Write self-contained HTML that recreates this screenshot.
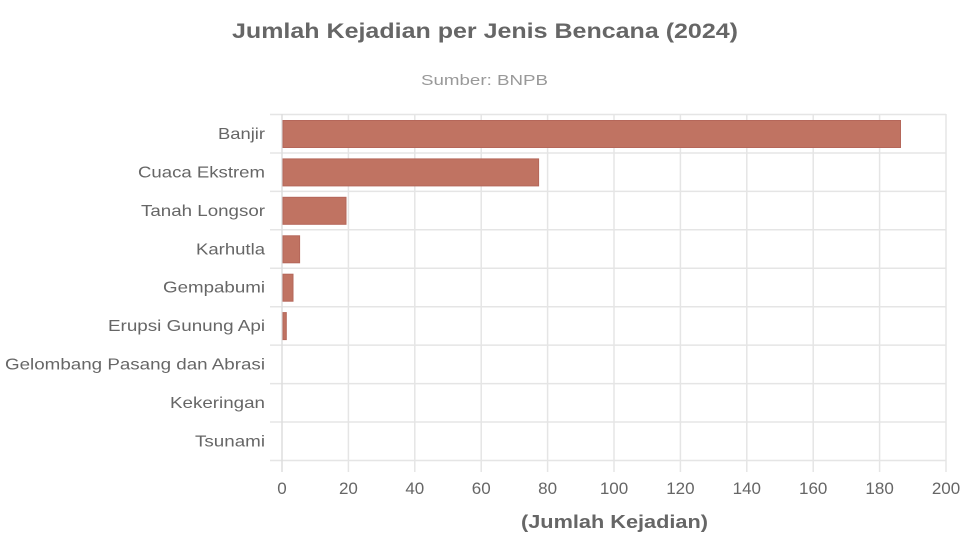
<!DOCTYPE html>
<html><head><meta charset="utf-8"><style>body{margin:0;background:#fff}svg{display:block}</style></head><body>
<svg width="968" height="543" xmlns="http://www.w3.org/2000/svg" font-family="Liberation Sans, sans-serif">
<text x="232" y="38" font-size="21" font-weight="bold" fill="#666" textLength="506" lengthAdjust="spacingAndGlyphs">Jumlah Kejadian per Jenis Bencana (2024)</text>
<text x="421" y="85" font-size="15" fill="#999" textLength="127" lengthAdjust="spacingAndGlyphs">Sumber: BNPB</text>
<g stroke="#e5e5e5" stroke-width="1.5">
<line x1="270" y1="114.5" x2="946" y2="114.5"/>
<line x1="270" y1="153" x2="946" y2="153"/>
<line x1="270" y1="191.4" x2="946" y2="191.4"/>
<line x1="270" y1="229.8" x2="946" y2="229.8"/>
<line x1="270" y1="268.3" x2="946" y2="268.3"/>
<line x1="270" y1="306.7" x2="946" y2="306.7"/>
<line x1="270" y1="345.1" x2="946" y2="345.1"/>
<line x1="270" y1="383.6" x2="946" y2="383.6"/>
<line x1="270" y1="422" x2="946" y2="422"/>
<line x1="270" y1="460.5" x2="946" y2="460.5"/>
<line x1="348.4" y1="114" x2="348.4" y2="472"/>
<line x1="414.8" y1="114" x2="414.8" y2="472"/>
<line x1="481.2" y1="114" x2="481.2" y2="472"/>
<line x1="547.6" y1="114" x2="547.6" y2="472"/>
<line x1="614" y1="114" x2="614" y2="472"/>
<line x1="680.4" y1="114" x2="680.4" y2="472"/>
<line x1="746.8" y1="114" x2="746.8" y2="472"/>
<line x1="813.2" y1="114" x2="813.2" y2="472"/>
<line x1="879.6" y1="114" x2="879.6" y2="472"/>
<line x1="946" y1="114" x2="946" y2="472"/>
</g>
<line x1="282" y1="114" x2="282" y2="472" stroke="#ddd" stroke-width="1.5"/>
<g fill="#c07362" stroke="#b5675a" stroke-width="1">
<rect x="283" y="120.5" width="617.5" height="27"/>
<rect x="283" y="158.9" width="255.6" height="27"/>
<rect x="283" y="197.3" width="63" height="27"/>
<rect x="283" y="235.8" width="16.6" height="27"/>
<rect x="283" y="274.2" width="10" height="27"/>
<rect x="283" y="312.6" width="3.3" height="27"/>
</g>
<g font-size="16" fill="#666">
<text x="218" y="139" textLength="47" lengthAdjust="spacingAndGlyphs">Banjir</text>
<text x="138" y="177.5" textLength="127" lengthAdjust="spacingAndGlyphs">Cuaca Ekstrem</text>
<text x="141" y="216" textLength="124" lengthAdjust="spacingAndGlyphs">Tanah Longsor</text>
<text x="196" y="254.3" textLength="69" lengthAdjust="spacingAndGlyphs">Karhutla</text>
<text x="163" y="292.7" textLength="102" lengthAdjust="spacingAndGlyphs">Gempabumi</text>
<text x="108" y="331.1" textLength="157" lengthAdjust="spacingAndGlyphs">Erupsi Gunung Api</text>
<text x="5" y="369.6" textLength="260" lengthAdjust="spacingAndGlyphs">Gelombang Pasang dan Abrasi</text>
<text x="170" y="408" textLength="95" lengthAdjust="spacingAndGlyphs">Kekeringan</text>
<text x="195" y="446.4" textLength="70" lengthAdjust="spacingAndGlyphs">Tsunami</text>
</g>
<g font-size="17" fill="#666" text-anchor="middle">
<text x="282" y="494">0</text><text x="348.4" y="494">20</text><text x="414.8" y="494">40</text><text x="481.2" y="494">60</text><text x="547.6" y="494">80</text><text x="614" y="494">100</text><text x="680.4" y="494">120</text><text x="746.8" y="494">140</text><text x="813.2" y="494">160</text><text x="879.6" y="494">180</text><text x="946" y="494">200</text>
</g>
<text x="521" y="528" font-size="18" font-weight="bold" fill="#666" textLength="187" lengthAdjust="spacingAndGlyphs">(Jumlah Kejadian)</text>
</svg>
</body></html>
